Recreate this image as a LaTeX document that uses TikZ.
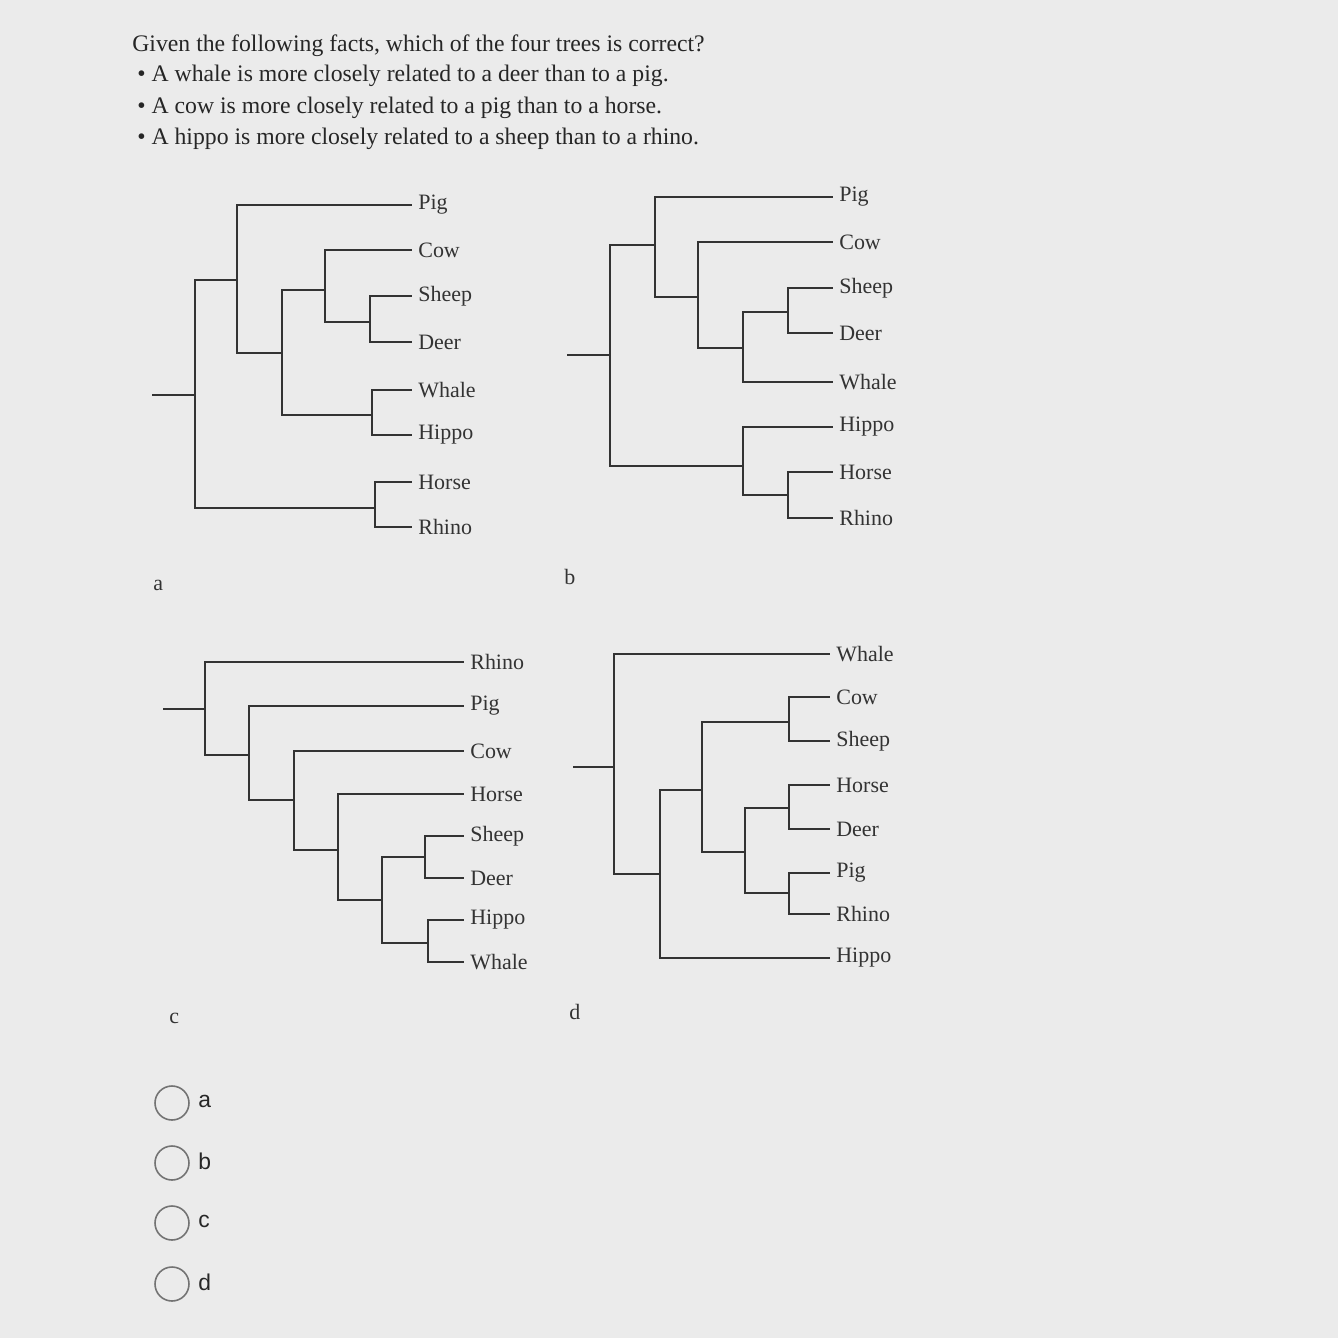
\documentclass[tikz,border=0pt]{standalone}
\usepackage{fontspec}
\setmainfont{Liberation Serif}
\newfontfamily\optfont{Liberation Sans}
\begin{document}
\begin{tikzpicture}[x=0.02cm,y=-0.02cm,
  br/.style={draw=black!80,line width=1.1pt},
  lab/.style={anchor=west,inner sep=0pt,font=\fontsize{12.5}{14}\selectfont,text=black!80},
  hdr/.style={anchor=west,inner sep=0pt,font=\fontsize{13.5}{15}\selectfont,text=black!85},
  opt/.style={draw=black!55,line width=0.9pt,circle,minimum size=0.68cm,inner sep=0pt},
  optl/.style={anchor=west,inner sep=0pt,font=\optfont\fontsize{13}{15}\selectfont,text=black!85}]
\fill[black!8] (0,0) rectangle (1338,1338);
\useasboundingbox (0,0) rectangle (1338,1338);
% header
\node[hdr] (h1) at (132,46) {Given the following facts, which of the four trees is correct?};
\node[hdr] (h2) at (137,76) {\textbullet\ A whale is more closely related to a deer than to a pig.};
\node[hdr] (h3) at (137,108) {\textbullet\ A cow is more closely related to a pig than to a horse.};
\node[hdr] (h4) at (137,139) {\textbullet\ A hippo is more closely related to a sheep than to a rhino.};
% helper
\newcommand\leaf[4]{\coordinate (#1) at (#2,#3); \node[lab] (#1t) at (#2+6,#3) {#4};}
% ---- tree a
\leaf{aPig}{412}{205}{Pig}
\leaf{aCow}{412}{250}{Cow}
\leaf{aSheep}{412}{296}{Sheep}
\leaf{aDeer}{412}{342}{Deer}
\leaf{aWhale}{412}{390}{Whale}
\leaf{aHippo}{412}{435}{Hippo}
\leaf{aHorse}{412}{482}{Horse}
\leaf{aRhino}{412}{527}{Rhino}
\coordinate (aR0) at (152,395);
\coordinate (aR) at (195,395);
\coordinate (a1) at (237,280);
\coordinate (a2) at (282,353);
\coordinate (a3) at (325,290);
\coordinate (a4) at (370,322);
\coordinate (a5) at (372,415);
\coordinate (a6) at (375,508);
\draw[br] (aR0) -- (aR);
\draw[br] (aR) |- (a1); \draw[br] (aR) |- (a6);
\draw[br] (a1) |- (aPig); \draw[br] (a1) |- (a2);
\draw[br] (a2) |- (a3); \draw[br] (a2) |- (a5);
\draw[br] (a3) |- (aCow); \draw[br] (a3) |- (a4);
\draw[br] (a4) |- (aSheep); \draw[br] (a4) |- (aDeer);
\draw[br] (a5) |- (aWhale); \draw[br] (a5) |- (aHippo);
\draw[br] (a6) |- (aHorse); \draw[br] (a6) |- (aRhino);
\node[lab] (la) at (153,585) {a};
% ---- tree b
\leaf{bPig}{833}{197}{Pig}
\leaf{bCow}{833}{242}{Cow}
\leaf{bSheep}{833}{288}{Sheep}
\leaf{bDeer}{833}{333}{Deer}
\leaf{bWhale}{833}{382}{Whale}
\leaf{bHippo}{833}{427}{Hippo}
\leaf{bHorse}{833}{472}{Horse}
\leaf{bRhino}{833}{518}{Rhino}
\coordinate (bR0) at (567,355);
\coordinate (bR) at (610,355);
\coordinate (b1) at (655,245);
\coordinate (b2) at (698,297);
\coordinate (b3) at (743,348);
\coordinate (b4) at (788,312);
\coordinate (b5) at (743,466);
\coordinate (b6) at (788,495);
\draw[br] (bR0) -- (bR);
\draw[br] (bR) |- (b1); \draw[br] (bR) |- (b5);
\draw[br] (b1) |- (bPig); \draw[br] (b1) |- (b2);
\draw[br] (b2) |- (bCow); \draw[br] (b2) |- (b3);
\draw[br] (b3) |- (b4); \draw[br] (b3) |- (bWhale);
\draw[br] (b4) |- (bSheep); \draw[br] (b4) |- (bDeer);
\draw[br] (b5) |- (bHippo); \draw[br] (b5) |- (b6);
\draw[br] (b6) |- (bHorse); \draw[br] (b6) |- (bRhino);
\node[lab] (lb) at (564,577) {b};
% ---- tree c
\leaf{cRhino}{464}{662}{Rhino}
\leaf{cPig}{464}{706}{Pig}
\leaf{cCow}{464}{751}{Cow}
\leaf{cHorse}{464}{794}{Horse}
\leaf{cSheep}{464}{836}{Sheep}
\leaf{cDeer}{464}{878}{Deer}
\leaf{cHippo}{464}{920}{Hippo}
\leaf{cWhale}{464}{962}{Whale}
\coordinate (cR0) at (163,709);
\coordinate (cR) at (205,709);
\coordinate (c1) at (249,755);
\coordinate (c2) at (294,800);
\coordinate (c3) at (338,850);
\coordinate (c4) at (382,900);
\coordinate (c5) at (425,857);
\coordinate (c6) at (428,943);
\draw[br] (cR0) -- (cR);
\draw[br] (cR) |- (cRhino); \draw[br] (cR) |- (c1);
\draw[br] (c1) |- (cPig); \draw[br] (c1) |- (c2);
\draw[br] (c2) |- (cCow); \draw[br] (c2) |- (c3);
\draw[br] (c3) |- (cHorse); \draw[br] (c3) |- (c4);
\draw[br] (c4) |- (c5); \draw[br] (c4) |- (c6);
\draw[br] (c5) |- (cSheep); \draw[br] (c5) |- (cDeer);
\draw[br] (c6) |- (cHippo); \draw[br] (c6) |- (cWhale);
\node[lab] (lc) at (169,1018) {c};
% ---- tree d
\leaf{dWhale}{830}{654}{Whale}
\leaf{dCow}{830}{697}{Cow}
\leaf{dSheep}{830}{741}{Sheep}
\leaf{dHorse}{830}{785}{Horse}
\leaf{dDeer}{830}{829}{Deer}
\leaf{dPig}{830}{873}{Pig}
\leaf{dRhino}{830}{914}{Rhino}
\leaf{dHippo}{830}{958}{Hippo}
\coordinate (dR0) at (573,767);
\coordinate (dR) at (614,767);
\coordinate (d1) at (660,874);
\coordinate (d2) at (702,790);
\coordinate (d3) at (789,722);
\coordinate (d4) at (745,852);
\coordinate (d5) at (789,808);
\coordinate (d6) at (789,893);
\draw[br] (dR0) -- (dR);
\draw[br] (dR) |- (dWhale); \draw[br] (dR) |- (d1);
\draw[br] (d1) |- (d2); \draw[br] (d1) |- (dHippo);
\draw[br] (d2) |- (d3); \draw[br] (d2) |- (d4);
\draw[br] (d3) |- (dCow); \draw[br] (d3) |- (dSheep);
\draw[br] (d4) |- (d5); \draw[br] (d4) |- (d6);
\draw[br] (d5) |- (dHorse); \draw[br] (d5) |- (dDeer);
\draw[br] (d6) |- (dPig); \draw[br] (d6) |- (dRhino);
\node[lab] (ld) at (569,1012) {d};
% ---- options
\node[opt] (oa) at (172,1103) {}; \node[optl] (oat) at (198,1101) {a};
\node[opt] (ob) at (172,1163) {}; \node[optl] (obt) at (198,1161) {b};
\node[opt] (oc) at (172,1223) {}; \node[optl] (oct) at (198,1221) {c};
\node[opt] (od) at (172,1284) {}; \node[optl] (odt) at (198,1282) {d};
\end{tikzpicture}
\end{document}
